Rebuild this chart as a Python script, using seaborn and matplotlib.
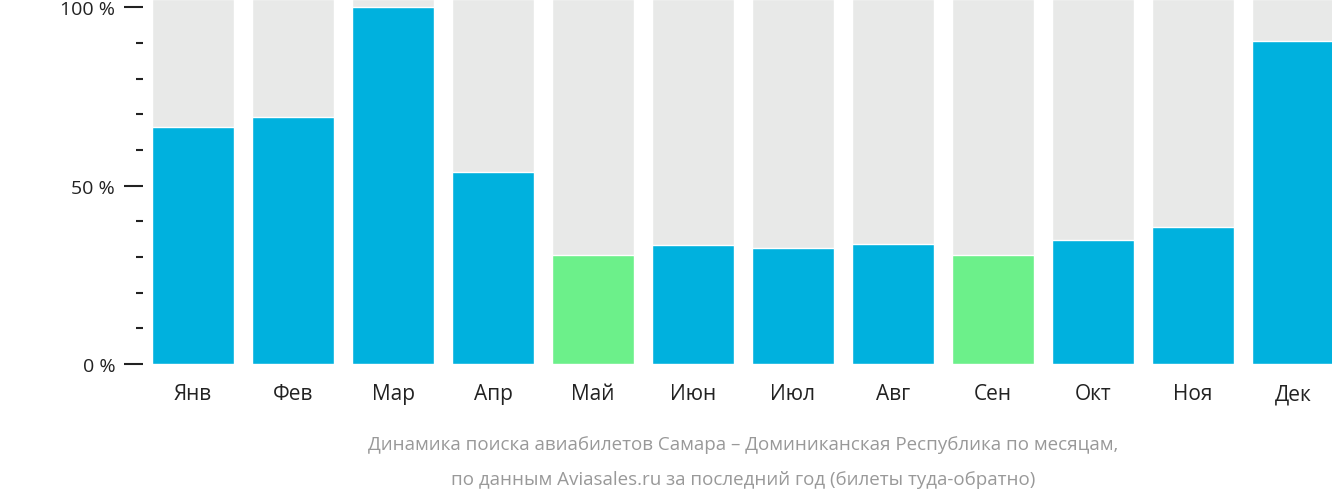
import matplotlib
matplotlib.use("Agg")
import matplotlib.pyplot as plt
import seaborn as sns
import pandas as pd
from matplotlib.ticker import MultipleLocator, FixedLocator

months = ["Янв","Фев","Мар","Апр","Май","Июн","Июл","Авг","Сен","Окт","Ноя","Дек"]
values = [66.4, 69.2, 100, 53.8, 30.5, 33.3, 32.5, 33.6, 30.5, 34.7, 38.4, 90.5]
low = ["Май", "Сен"]

sns.set_theme(style="white")
plt.rcParams['font.family'] = ['Open Sans', 'DejaVu Sans']

df = pd.DataFrame({"m": months, "v": values})
top = 102.3
fig = plt.figure(figsize=(13.32, 5.02), dpi=100)
ax = fig.add_axes([143/1332, (502-365)/502, 1200/1332, 365/502])
sns.barplot(data=pd.DataFrame({"m": months, "v": [top]*12}), x="m", y="v",
            color="#e8e9e8", width=0.82, ax=ax, saturation=1)
pal = {m: ("#6cf08a" if m in low else "#00b1de") for m in months}
sns.barplot(data=df, x="m", y="v", hue="m", palette=pal, width=0.82, ax=ax,
            saturation=1, legend=False)
ax.set_xlim(-0.5, 11.5)
ax.set_ylim(0, top)
for s in ax.spines.values():
    s.set_visible(False)
ax.set_xlabel(""); ax.set_ylabel("")
ax.yaxis.set_major_locator(FixedLocator([0, 50, 100]))
ax.set_yticklabels(["0 %", "50 %", "100 %"])
ax.yaxis.set_minor_locator(MultipleLocator(10))
ax.tick_params(axis="y", which="major", left=True, length=14, width=1.5, color="#222222",
               labelsize=14, labelcolor="#222222", pad=6)
ax.tick_params(axis="y", which="minor", left=True, length=5, width=1.5, color="#222222")
ax.tick_params(axis="x", bottom=False, labelsize=15, labelcolor="#222222", pad=8)
fig.text(743/1332, 1-445/502, "Динамика поиска авиабилетов Самара – Доминиканская Республика по месяцам,",
         ha="center", va="center", fontsize=13.5, color="#999999")
fig.text(743/1332, 1-480/502, "по данным Aviasales.ru за последний год (билеты туда-обратно)",
         ha="center", va="center", fontsize=13.5, color="#999999")
fig.savefig("out.png", dpi=100)
